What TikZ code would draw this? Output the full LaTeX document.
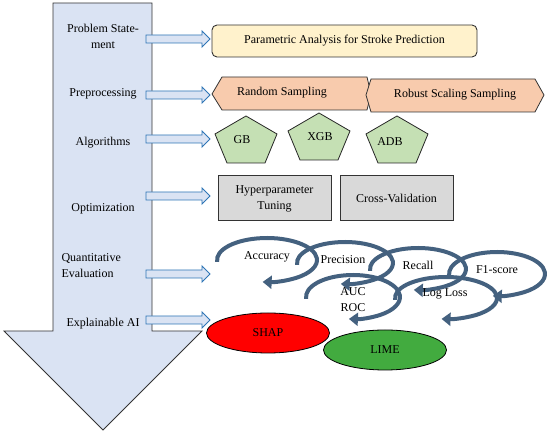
\documentclass[tikz,border=0pt]{standalone}
\usepackage{fontspec}
\setmainfont{Liberation Serif}
\usepackage{xcolor}
\usepackage{tikz}
\usetikzlibrary{positioning,shapes,arrows.meta}
\definecolor{flowblue}{HTML}{DAE3F3}
\definecolor{edgeblue}{HTML}{2E75B6}
\definecolor{probyellow}{HTML}{FFF2CC}
\definecolor{prepsalmon}{HTML}{F8CBAD}
\definecolor{algogreen}{HTML}{C5E0B4}
\definecolor{optgray}{HTML}{D9D9D9}
\definecolor{evalslate}{HTML}{44617F}
\definecolor{xaigreen}{HTML}{42AB3F}
\tikzset{
  every node/.style={font=\fontsize{12}{16}\selectfont},
  mainarrow/.style={draw=black!80, fill=flowblue, line width=.8pt},
  stagearrow/.style={draw=edgeblue, fill=flowblue, line width=.9pt},
  probbox/.style={draw=black!80, fill=probyellow, rounded corners=5pt, line width=.9pt, minimum width=265pt, minimum height=32pt},
  prepshape/.style={draw=black!80, fill=prepsalmon, line width=.8pt},
  algoshape/.style={draw=black!85, fill=algogreen, line width=.8pt},
  optbox/.style={draw=black!80, fill=optgray, line width=1pt, minimum width=113pt, minimum height=45pt, align=center},
  evalcycle/.style={draw=evalslate, line width=4pt, -{Triangle[length=9pt,width=13pt]}},
  xaioval/.style={ellipse, draw=black, line width=.8pt, minimum width=123pt, minimum height=40pt}
}
\begin{document}
\begin{tikzpicture}[x=1pt,y=-1pt]
	\useasboundingbox (0,0) rectangle (550,435);
	\draw[mainarrow] (53,3) -- (152,3) -- (152,331) -- (202,331) -- (103,430) -- (4,331) -- (53,331) -- cycle;
	\node[align=center] (lblprob) at (103,36) {Problem State-\\ment};
	\node (lblprep) at (103,94) {Preprocessing};
	\node (lblalgo) at (103,143) {Algorithms};
	\node (lblopt) at (103,209) {Optimization};
	\node[align=left, anchor=west] (lbleval) at (58,266) {Quantitative\\Evaluation};
	\node (lblxai) at (103,324) {Explainable AI};
	\foreach \y in {39,95,139,196,274,320}
		\draw[stagearrow] (146,\y-4) -- (202,\y-4) -- (202,\y-8) -- (210,\y) -- (202,\y+8) -- (202,\y+4) -- (146,\y+4) -- cycle;
	\node[probbox] (prob) at (344.5,41) {Parametric Analysis for Stroke Prediction};
	\draw[prepshape] (212,94) -- (222,77) -- (367,77) -- (371,94) -- (367,110) -- (222,110) -- cycle;
	\draw[prepshape] (366,95) -- (371,79) -- (535,79) -- (544,95) -- (535,112) -- (371,112) -- cycle;
	\node (randsamp) at (282,93) {Random Sampling};
	\node (robsamp) at (455,95) {Robust Scaling Sampling};
	\foreach \x/\y in {246/116, 319/113, 397/116}
		\draw[algoshape] (\x,\y) -- ++(31,18) -- ++(-12,29) -- ++(-38,0) -- ++(-12,-29) -- cycle;
	\node (gb) at (242,140) {GB};
	\node (xgb) at (320,137) {XGB};
	\node (adb) at (390,142) {ADB};
	\node[optbox] (hyper) at (274.5,198.5) {Hyperparameter\\Tuning};
	\node[optbox] (crossval) at (396.5,198.5) {Cross-Validation};
	\foreach \cx/\cy/\rx/\ry in {267/260/50/22, 345/263/48/21, 418/269/48/21, 497/274/48/22, 353/297/47/22, 446/298/51/21}
		\draw[evalcycle] (\cx,\cy) ++(175:{\rx} and {\ry}) arc[start angle=175, end angle=455, x radius=\rx, y radius=\ry];
	\node (acc) at (267,257) {Accuracy};
	\node (prec) at (343,260) {Precision};
	\node (rec) at (418,265) {Recall};
	\node (fone) at (497,270) {F1-score};
	\node[align=center] (aucroc) at (353,300) {AUC\\ROC};
	\node (logloss) at (445,294) {Log Loss};
	\node[xaioval, fill=red] (shap) at (268,333) {SHAP};
	\node[xaioval, fill=xaigreen] (lime) at (385,350) {LIME};
\end{tikzpicture}
\end{document}
